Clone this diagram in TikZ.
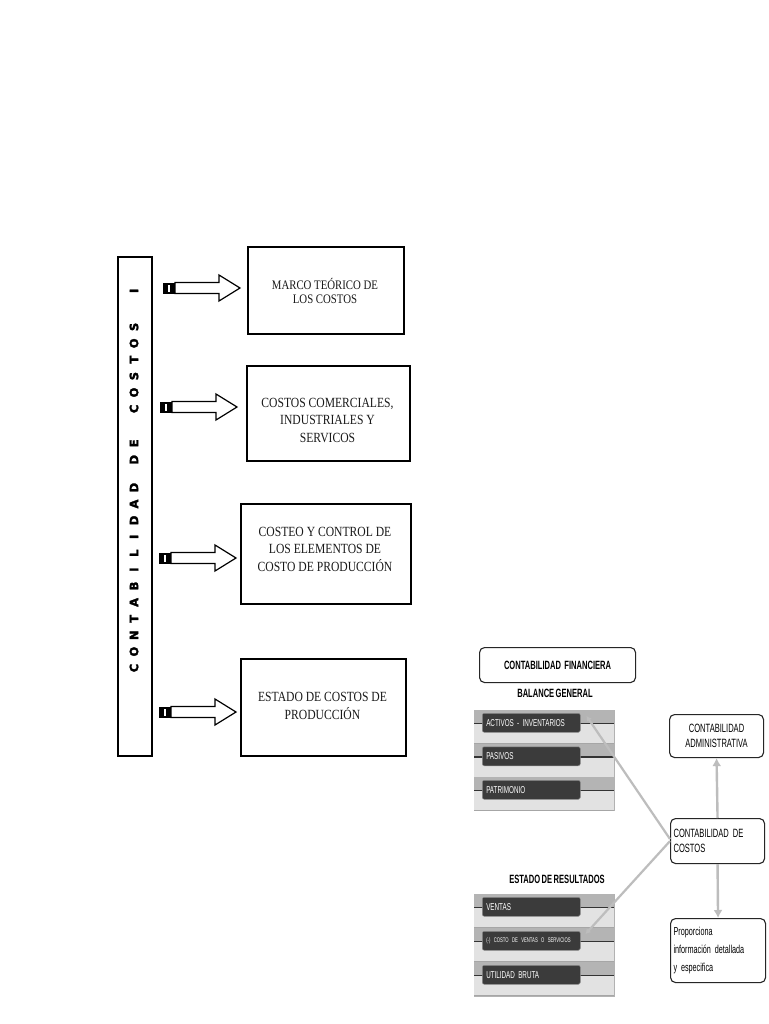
\documentclass[tikz,border=0pt]{standalone}
\usepackage{fontspec}
\setmainfont{Liberation Serif}
\newfontfamily\serifc[FakeStretch=0.83]{Liberation Serif}
\newfontfamily\nar[FakeStretch=0.63,WordSpace=0.7]{Liberation Sans}
\newfontfamily\heavy[FakeBold=2.5]{DejaVu Sans Bold}
\usetikzlibrary{arrows.meta,calc}
\definecolor{stripdark}{HTML}{B4B4B4}
\definecolor{striplight}{HTML}{E2E2E2}
\definecolor{labfill}{HTML}{3B3B3B}
\definecolor{connector}{HTML}{BDBDBD}
\newcommand\blockarrow[1]{%
  \begin{scope}[shift={(#1)}]
    \fill[black] (0,-5.5) rectangle (12,5.5);
    \fill[white] (4.5,-3.5) rectangle (7,3.5);
    \draw[line width=1.2pt,fill=white,line join=miter]
      (12,-5.5) -- (56,-5.5) -- (56,-13) -- (77,0) -- (56,13) -- (56,5.5) -- (12,5.5) -- cycle;
  \end{scope}}
\newcommand\panelrow[3]{% top y, label, name
  \fill[stripdark] (474,#1) rectangle (614,#1+13.5);
  \fill[striplight] (474,#1+13.5) rectangle (614,#1+33.5);
  \draw[black!35,line width=0.6pt] (474,#1+33.5) -- (614,#1+33.5);
  \draw[black!80,line width=1.4pt] (474,#1+13.5) -- (614,#1+13.5);
  \node[lab] (#3) at (482,#1+3) {#2};}
\begin{document}
\begin{tikzpicture}[x=1pt,y=-1pt,
  sbox/.style={draw=black,line width=1.6pt,fill=white,anchor=north west,inner sep=0pt},
  stext/.style={align=center,text=black!90,font=\serifc\fontsize{14}{17.5}\selectfont},
  vlet/.style={rotate=90,inner sep=0pt,font=\heavy\fontsize{11.5}{11.5}\selectfont},
  lab/.style={draw=black!45,line width=0.5pt,fill=labfill,rounded corners=2pt,anchor=north west,
    text=white,text width=90pt,inner xsep=4pt,inner ysep=0pt,minimum height=19pt,align=left,
    font=\nar\fontsize{10}{10}\selectfont},
  rbox/.style={draw=black!85,line width=1.1pt,rounded corners=5pt,fill=white,anchor=north west,inner sep=0pt},
  rtext/.style={font=\nar\fontsize{12}{15.5}\selectfont},
  head/.style={font=\nar\bfseries\fontsize{12}{12}\selectfont},
  garr/.style={draw=connector,line width=2.4pt,-{Latex[length=8pt,width=9pt]}},
  gline/.style={draw=connector,line width=2.2pt,-{Latex[length=5pt,width=6pt]}}]
\useasboundingbox[fill=white] (0,0) rectangle (768,1024);

% ---------- left diagram ----------
\node[sbox,line width=2pt,minimum width=34pt,minimum height=499pt] (title) at (117,256) {};
\foreach \yy/\ll [count=\i] in {668/C,651.6/O,635.2/N,618.8/T,602.4/A,586/B,569.6/I,553.2/L,536.8/I,520.4/D,504/A,487.6/D,
  459.7/D,443.3/E,408.9/C,392.5/O,376.1/S,359.7/T,343.3/O,326.9/S,290.8/I}
  \node[vlet] (v\i) at (134,\yy) {\ll};

\node[sbox,minimum width=156pt,minimum height=87pt] (b1) at (247,246) {};
\node[sbox,minimum width=163pt,minimum height=95pt] (b2) at (246,365) {};
\node[sbox,minimum width=170pt,minimum height=100pt] (b3) at (240,503) {};
\node[sbox,minimum width=165pt,minimum height=97pt] (b4) at (240,658) {};

\node[stext,font=\serifc\fontsize{13}{14.5}\selectfont] (t1) at (325,291) {MARCO TEÓRICO DE\\LOS COSTOS};
\node[stext] (t2) at (327.5,420) {COSTOS COMERCIALES,\\INDUSTRIALES Y\\SERVICOS};
\node[stext] (t3) at (325,549) {COSTEO Y CONTROL DE\\LOS ELEMENTOS DE\\COSTO DE PRODUCCIÓN};
\node[stext] (t4) at (322.5,706) {ESTADO DE COSTOS DE\\PRODUCCIÓN};

\coordinate (a1) at (163,288);
\coordinate (a2) at (160,407);
\coordinate (a3) at (159,558);
\coordinate (a4) at (159,712);
\blockarrow{a1}
\blockarrow{a2}
\blockarrow{a3}
\blockarrow{a4}

% ---------- right diagram ----------
\node[rbox,minimum width=156pt,minimum height=35pt,head] (fin) at (479,647) {CONTABILIDAD\, FINANCIERA};
\node[head] (bal) at (555,693) {BALANCE GENERAL};
\draw[black!30,line width=0.6pt] (474,710) rectangle (614,810.5);
\panelrow{710}{ACTIVOS - INVENTARIOS}{act}
\panelrow{743.5}{PASIVOS}{pas}
\panelrow{777}{PATRIMONIO}{pat}

\node[head] (res) at (557,879) {ESTADO DE RESULTADOS};
\draw[black!30,line width=0.6pt] (474,894) rectangle (614,996);
\panelrow{894}{VENTAS}{ven}
\panelrow{928}{\fontsize{6.7}{7}\selectfont (-) COSTO DE VENTAS O SERVICIOS}{cv}
\panelrow{962}{UTILIDAD BRUTA}{ub}

\node[rbox,rtext,align=center,minimum width=94pt,minimum height=43pt] (adm) at (669,714) {CONTABILIDAD\\ADMINISTRATIVA};
\node[rbox,rtext,align=left,text width=88pt,inner xsep=3pt,minimum height=45pt] (cc) at (670,818) {CONTABILIDAD DE\\COSTOS};
\node[rbox,align=left,text width=89pt,inner xsep=3pt,minimum height=64pt,font=\nar\fontsize{11.5}{18}\selectfont] (prop) at (670,918) {Proporciona\\información detallada\\y especifica};

\draw[garr] (cc.north) -- (adm.south);
\draw[garr] (cc.south) -- (prop.north);
\draw[gline] ($(cc.west)+(0,-2)$) -- ($(act.north east)+(6,3)$);
\draw[gline] ($(cc.west)+(0,0)$) -- ($(cv.north east)+(5,3)$);
\end{tikzpicture}
\end{document}
